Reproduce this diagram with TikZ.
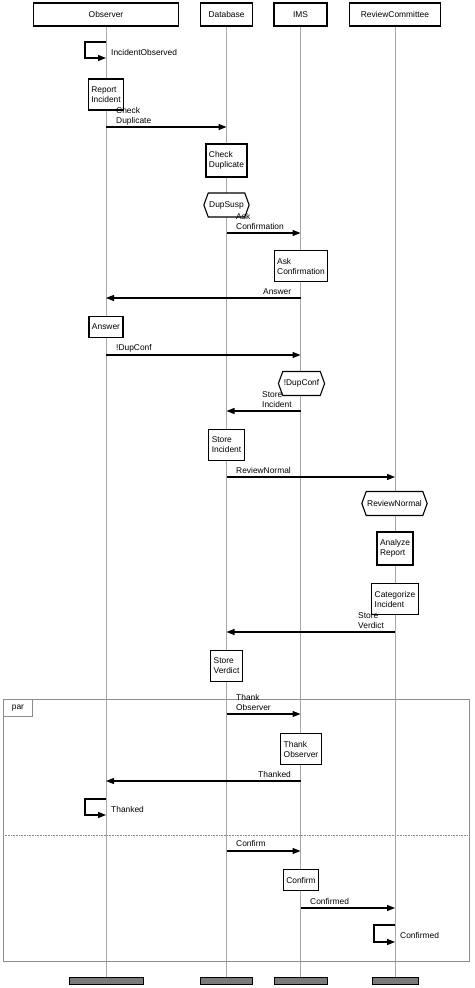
\documentclass[tikz,border=0pt]{standalone}
\usepackage{fontspec}
\setmainfont{Liberation Sans}
\usepackage{xcolor}
\usepackage{tikz}
\usetikzlibrary{arrows.meta,shapes.symbols,shadows}
\definecolor{lifeGray}{HTML}{A8A8A8}
\definecolor{frameGray}{HTML}{8C8C8C}
\definecolor{footGray}{HTML}{7A7A7A}

\begin{document}
\begin{tikzpicture}[
  x=1pt, y=-1pt,
  font=\fontsize{8.4}{10}\selectfont,
  head/.style={draw, line width=1.3pt, fill=white, minimum height=23pt, inner sep=0pt,
    drop shadow={shadow xshift=0.8pt, shadow yshift=-0.8pt, fill=black, opacity=1}},
  foot/.style={draw, line width=0.8pt, fill=footGray, minimum height=7pt, inner sep=0pt},
  life/.style={lifeGray, line width=0.9pt},
  act/.style={draw, line width=1.3pt, fill=white, align=left, inner xsep=3pt, inner ysep=7.5pt},
  cond/.style={draw, line width=1.1pt, fill=white, signal, signal to=west and east,
    signal pointer angle=140, minimum height=24pt, inner xsep=1pt, inner ysep=0pt},
  msg/.style={line width=1.2pt, -{Triangle[length=8pt,width=6pt]}},
  lbl/.style={anchor=base west, align=left, inner sep=0pt},
  >=Latex
]
\useasboundingbox (0,0) rectangle (474,988);

% Lifelines: heads, lines, feet
\foreach \n/\x/\w/\fw/\t in {Obs/106/145/74/Observer, Db/226.5/52/52/Database,
    Ims/300.5/53/53/IMS, Rc/395/91/46/ReviewCommittee} {
  \draw[life] (\x,26) -- (\x,977);
  \node[head, minimum width=\w pt] (h\n) at (\x,14.5) {\t};
  \node[foot, minimum width=\fw pt] (f\n) at (\x,980.5) {};
}

% par fragment
\draw[frameGray, line width=1pt] (3,699) rectangle (469,961);
\node[draw=frameGray, line width=0.8pt, anchor=north west, minimum width=29pt,
  minimum height=17pt, inner sep=0pt] (par) at (3,699) {par};
\draw[frameGray, densely dotted, line width=0.6pt] (3,835) -- (469,835);

% Incident observed
\draw[msg] (hObs |- 0,42) -- ++(-21,0) -- ++(0,16) -- ++(21,0);
\node[lbl] (lIncObs) at (111,55) {IncidentObserved};
\node[act] (aReport) at (106,94.5) {Report\\Incident};

% Duplicate check
\draw[msg] (hObs |- 0,127) -- (hDb |- 0,127);
\node[lbl] (lCheckDup) at (116,123) {Check\\Duplicate};
\node[act] (aCheckDup) at (226.5,160.5) {Check\\Duplicate};
\node[cond] (cDupSusp) at (226.5,205) {DupSusp};

\draw[msg] (hDb |- 0,233) -- (hIms |- 0,233);
\node[lbl] (lAskConf) at (236,229) {Ask\\Confirmation};
\node[act] (aAskConf) at (301,266) {Ask\\Confirmation};

\draw[msg] (hIms |- 0,298) -- (hObs |- 0,298);
\node[lbl] (lAnswer) at (263,294) {Answer};
\node[act] (aAnswer) at (106,327) {Answer};

\draw[msg] (hObs |- 0,355) -- (hIms |- 0,355);
\node[lbl] (lNotDup) at (116,350) {!DupConf};
\node[cond] (cNotDup) at (301.5,383.5) {!DupConf};

% Store and review
\draw[msg] (hIms |- 0,411) -- (hDb |- 0,411);
\node[lbl] (lStoreInc) at (262,407) {Store\\Incident};
\node[act] (aStoreInc) at (226.5,445) {Store\\Incident};

\draw[msg] (hDb |- 0,477) -- (hRc |- 0,477);
\node[lbl] (lRevNorm) at (236,473) {ReviewNormal};
\node[cond] (cRevNorm) at (394.5,503.5) {ReviewNormal};
\node[act] (aAnalyze) at (395,548.5) {Analyze\\Report};
\node[act] (aCategorize) at (395,599) {Categorize\\Incident};

\draw[msg] (hRc |- 0,632) -- (hDb |- 0,632);
\node[lbl] (lStoreVer) at (358,628) {Store\\Verdict};
\node[act] (aStoreVer) at (226.5,666) {Store\\Verdict};

% par: thank the observer
\draw[msg] (hDb |- 0,714) -- (hIms |- 0,714);
\node[lbl] (lThankObs) at (236,710) {Thank\\Observer};
\node[act] (aThankObs) at (301,749) {Thank\\Observer};

\draw[msg] (hIms |- 0,781) -- (hObs |- 0,781);
\node[lbl] (lThanked) at (258,777) {Thanked};
\draw[msg] (hObs |- 0,799) -- ++(-21,0) -- ++(0,16) -- ++(21,0);
\node[lbl] (lThankedSelf) at (111,812) {Thanked};

% par: confirm
\draw[msg] (hDb |- 0,851) -- (hIms |- 0,851);
\node[lbl] (lConfirm) at (236,846) {Confirm};
\node[act] (aConfirm) at (301,880) {Confirm};

\draw[msg] (hIms |- 0,908) -- (hRc |- 0,908);
\node[lbl] (lConfirmed) at (310,904) {Confirmed};
\draw[msg] (hRc |- 0,925) -- ++(-21,0) -- ++(0,17) -- ++(21,0);
\node[lbl] (lConfirmedSelf) at (400,938) {Confirmed};
\end{tikzpicture}
\end{document}
